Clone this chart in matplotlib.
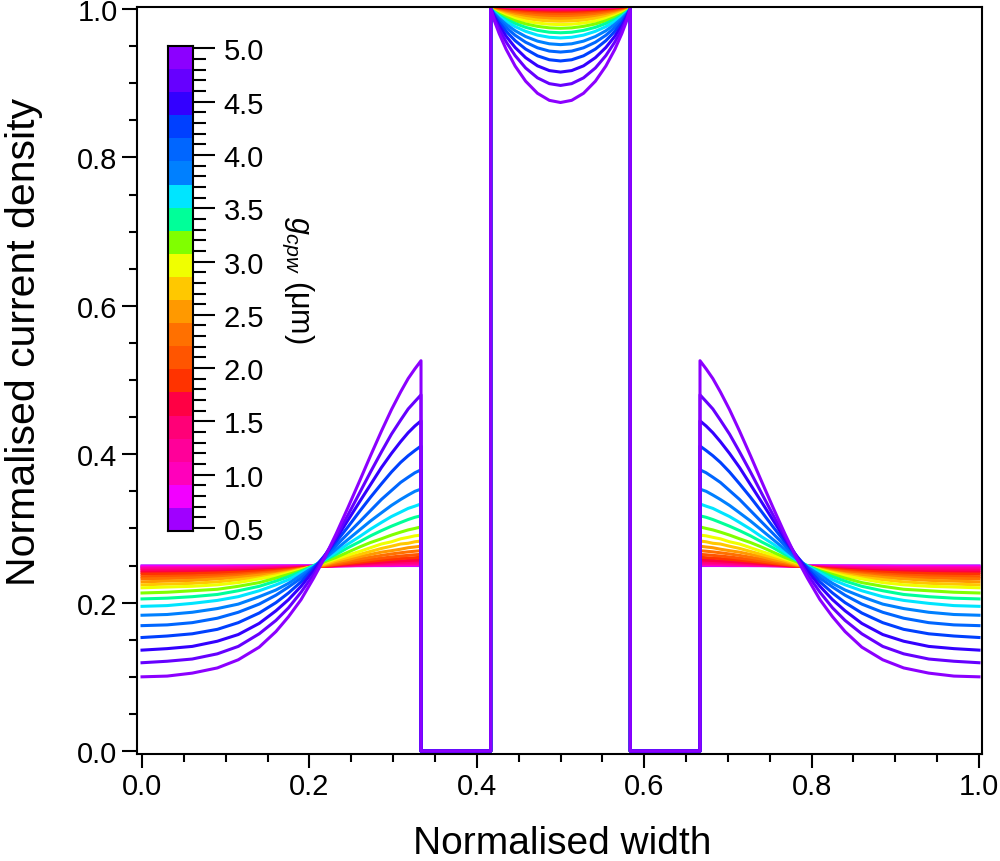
import numpy as np
import matplotlib
matplotlib.use("Agg")
import matplotlib.pyplot as plt
from matplotlib.colors import ListedColormap
from matplotlib.ticker import MultipleLocator

plt.rcParams["font.family"] = ["Liberation Sans", "DejaVu Sans"]
plt.rcParams["mathtext.fontset"] = "custom"
plt.rcParams["mathtext.it"] = "Liberation Sans:italic"
plt.rcParams["mathtext.rm"] = "Liberation Sans"

# one curve per g_cpw step, from 0.5 um (flattest) up to 5.0 um (strongest edge peak)
colors = ["#A000FF", "#F200FF", "#FF00BB", "#FF0099", "#FF0077", "#FF0044",
          "#FF3300", "#FF5500", "#FF7000", "#FF9900", "#FFC800", "#F0FF00",
          "#80FF00", "#00FF99", "#00E5FF", "#0080FF", "#0066FF", "#0040FF",
          "#3300FF", "#6600FF", "#8C00FF"]
cbar_ticks = [0.5, 1.0, 1.5, 2.0, 2.5, 3.0, 3.5, 4.0, 4.5, 5.0]

# left ground plane, x = 0 .. 1/3 (right ground plane is its mirror image)
x_ground = [0, 0.03, 0.06, 0.09, 0.115, 0.14, 0.16, 0.175, 0.19, 0.205, 0.218, 0.232,
            0.246, 0.26, 0.273, 0.286, 0.298, 0.309, 0.318, 0.326, 1 / 3]
ground = [
    [0.2495, 0.2495, 0.2495, 0.2495, 0.2496, 0.2496, 0.2496, 0.2496, 0.2497, 0.2497, 0.2497,
     0.2498, 0.2498, 0.2499, 0.2499, 0.2499, 0.2499, 0.2500, 0.2500, 0.2500, 0.2500],
    [0.2485, 0.2485, 0.2486, 0.2486, 0.2487, 0.2488, 0.2490, 0.2491, 0.2492, 0.2493, 0.2495,
     0.2496, 0.2498, 0.2499, 0.2500, 0.2502, 0.2503, 0.2504, 0.2504, 0.2505, 0.2505],
    [0.2470, 0.2471, 0.2472, 0.2473, 0.2475, 0.2478, 0.2481, 0.2483, 0.2486, 0.2489, 0.2492,
     0.2495, 0.2498, 0.2502, 0.2505, 0.2507, 0.2510, 0.2512, 0.2513, 0.2514, 0.2515],
    [0.2455, 0.2456, 0.2457, 0.2460, 0.2463, 0.2468, 0.2473, 0.2477, 0.2482, 0.2487, 0.2491,
     0.2497, 0.2502, 0.2508, 0.2513, 0.2517, 0.2521, 0.2525, 0.2527, 0.2529, 0.2530],
    [0.2435, 0.2436, 0.2439, 0.2443, 0.2448, 0.2455, 0.2462, 0.2469, 0.2476, 0.2484, 0.2491,
     0.2499, 0.2508, 0.2516, 0.2523, 0.2531, 0.2537, 0.2542, 0.2545, 0.2548, 0.2550],
    [0.2410, 0.2412, 0.2415, 0.2421, 0.2429, 0.2439, 0.2449, 0.2458, 0.2468, 0.2480, 0.2490,
     0.2502, 0.2514, 0.2526, 0.2537, 0.2547, 0.2556, 0.2563, 0.2568, 0.2572, 0.2575],
    [0.2385, 0.2388, 0.2392, 0.2400, 0.2410, 0.2424, 0.2438, 0.2451, 0.2465, 0.2480, 0.2494,
     0.2511, 0.2527, 0.2543, 0.2558, 0.2572, 0.2584, 0.2594, 0.2601, 0.2606, 0.2610],
    [0.2350, 0.2354, 0.2360, 0.2370, 0.2384, 0.2402, 0.2421, 0.2438, 0.2456, 0.2477, 0.2496,
     0.2517, 0.2539, 0.2561, 0.2581, 0.2599, 0.2615, 0.2628, 0.2637, 0.2645, 0.2650],
    [0.2320, 0.2325, 0.2333, 0.2346, 0.2363, 0.2386, 0.2410, 0.2431, 0.2455, 0.2481, 0.2505,
     0.2532, 0.2560, 0.2588, 0.2612, 0.2636, 0.2656, 0.2672, 0.2684, 0.2693, 0.2700],
    [0.228, 0.229, 0.230, 0.232, 0.234, 0.237, 0.239, 0.242, 0.245, 0.248, 0.251,
     0.255, 0.258, 0.262, 0.265, 0.268, 0.270, 0.272, 0.274, 0.275, 0.276],
    [0.224, 0.225, 0.226, 0.228, 0.231, 0.234, 0.238, 0.241, 0.245, 0.249, 0.252,
     0.257, 0.261, 0.265, 0.269, 0.273, 0.276, 0.279, 0.280, 0.282, 0.283],
    [0.220, 0.221, 0.222, 0.224, 0.227, 0.232, 0.236, 0.240, 0.244, 0.249, 0.254,
     0.259, 0.264, 0.269, 0.274, 0.279, 0.282, 0.286, 0.288, 0.290, 0.291],
    [0.213, 0.214, 0.216, 0.218, 0.222, 0.227, 0.233, 0.238, 0.243, 0.249, 0.255,
     0.261, 0.268, 0.275, 0.281, 0.286, 0.291, 0.295, 0.298, 0.300, 0.302],
    [0.205, 0.206, 0.208, 0.211, 0.216, 0.222, 0.229, 0.235, 0.242, 0.250, 0.257,
     0.265, 0.274, 0.282, 0.290, 0.297, 0.303, 0.308, 0.312, 0.315, 0.317],
    [0.195, 0.196, 0.199, 0.203, 0.208, 0.216, 0.224, 0.231, 0.240, 0.249, 0.258,
     0.268, 0.279, 0.289, 0.299, 0.308, 0.316, 0.322, 0.327, 0.330, 0.333],
    [0.183, 0.184, 0.187, 0.192, 0.198, 0.208, 0.217, 0.226, 0.237, 0.248, 0.259,
     0.272, 0.285, 0.298, 0.310, 0.321, 0.331, 0.339, 0.345, 0.350, 0.353],
    [0.169, 0.170, 0.173, 0.179, 0.187, 0.198, 0.210, 0.221, 0.233, 0.247, 0.261,
     0.277, 0.293, 0.309, 0.324, 0.339, 0.351, 0.362, 0.369, 0.375, 0.379],
    [0.153, 0.155, 0.158, 0.164, 0.173, 0.186, 0.200, 0.213, 0.228, 0.246, 0.263,
     0.282, 0.302, 0.323, 0.342, 0.360, 0.376, 0.389, 0.398, 0.405, 0.411],
    [0.136, 0.138, 0.141, 0.148, 0.157, 0.172, 0.189, 0.204, 0.222, 0.243, 0.263,
     0.286, 0.311, 0.336, 0.359, 0.382, 0.401, 0.417, 0.429, 0.438, 0.445],
    [0.119, 0.121, 0.124, 0.131, 0.141, 0.158, 0.176, 0.193, 0.214, 0.238, 0.262,
     0.289, 0.318, 0.348, 0.376, 0.403, 0.427, 0.446, 0.461, 0.471, 0.480],
    [0.100, 0.101, 0.105, 0.112, 0.123, 0.140, 0.161, 0.181, 0.204, 0.233, 0.260,
     0.293, 0.328, 0.364, 0.398, 0.431, 0.460, 0.484, 0.502, 0.515, 0.526],
]

# left half of the centre strip, x = 5/12 .. 1/2 (right half is its mirror image)
x_centre = [0.41667, 0.42083, 0.42667, 0.435, 0.44583, 0.45833, 0.4725, 0.48667, 0.5]
centre = [
    [1.0, 1.0, 0.9999, 0.9999, 0.9999, 0.9998, 0.9998, 0.9998, 0.9998],
    [1.0, 0.9999, 0.9998, 0.9997, 0.9996, 0.9995, 0.9995, 0.9994, 0.9994],
    [1.0, 0.9999, 0.9997, 0.9995, 0.9993, 0.9991, 0.9989, 0.9988, 0.9988],
    [1.0, 0.9998, 0.9995, 0.9991, 0.9988, 0.9985, 0.9982, 0.9980, 0.9980],
    [1.0, 0.9997, 0.9993, 0.9988, 0.9983, 0.9978, 0.9975, 0.9973, 0.9972],
    [1.0, 0.9995, 0.9990, 0.9983, 0.9976, 0.9969, 0.9964, 0.9961, 0.9960],
    [1.0, 0.9993, 0.9986, 0.9976, 0.9966, 0.9958, 0.9950, 0.9946, 0.9945],
    [1.0, 0.9991, 0.9980, 0.9968, 0.9954, 0.9942, 0.9932, 0.9927, 0.9925],
    [1.0, 0.9988, 0.9974, 0.9957, 0.9939, 0.9923, 0.9910, 0.9902, 0.9900],
    [1.0, 0.9984, 0.9966, 0.9944, 0.9921, 0.9900, 0.9883, 0.9873, 0.9870],
    [1.0, 0.9980, 0.9957, 0.9929, 0.9899, 0.9873, 0.9851, 0.9839, 0.9835],
    [1.0, 0.9974, 0.9945, 0.9910, 0.9872, 0.9838, 0.9811, 0.9795, 0.9790],
    [1.0, 0.9968, 0.9932, 0.9888, 0.9841, 0.9799, 0.9766, 0.9746, 0.9740],
    [1.0, 0.9961, 0.9916, 0.9862, 0.9805, 0.9753, 0.9712, 0.9687, 0.9680],
    [1.0, 0.9952, 0.9898, 0.9832, 0.9762, 0.9699, 0.9648, 0.9619, 0.9610],
    [1.0, 0.9941, 0.9874, 0.9794, 0.9707, 0.9629, 0.9567, 0.9531, 0.9520],
    [1.0, 0.9929, 0.9848, 0.9751, 0.9646, 0.9552, 0.9477, 0.9433, 0.9420],
    [1.0, 0.9914, 0.9817, 0.9699, 0.9573, 0.9460, 0.9369, 0.9316, 0.9300],
    [1.0, 0.9895, 0.9777, 0.9634, 0.9481, 0.9344, 0.9234, 0.9170, 0.9150],
    [1.0, 0.9873, 0.9730, 0.9557, 0.9372, 0.9205, 0.9072, 0.8994, 0.8970],
    [1.0, 0.9845, 0.9670, 0.9458, 0.9231, 0.9027, 0.8864, 0.8769, 0.8740],
]

# gaps between the conductors carry no current
gap_left = [1 / 3, 5 / 12]
gap_right = [7 / 12, 2 / 3]


def full_profile(g_row, c_row):
    xg = np.array(x_ground)
    xc = np.array(x_centre)
    g = np.array(g_row)
    c = np.array(c_row)
    x = np.concatenate([xg, gap_left, xc, (1 - xc[::-1])[1:], gap_right, 1 - xg[::-1]])
    y = np.concatenate([g, [0, 0], c, c[::-1][1:], [0, 0], g[::-1]])
    return x, y


fig = plt.figure(figsize=(10, 8.62), dpi=100)
ax = fig.add_axes([137 / 1000, 1 - 755 / 862, 845 / 1000, 747 / 862])

for g_row, c_row, col in zip(ground, centre, colors):
    x, y = full_profile(g_row, c_row)
    ax.plot(x, y, color=col, lw=2.2)

ax.set_xlim(-0.006, 1.0036)
ax.set_ylim(-0.004, 1.0027)
for sp in ax.spines.values():
    sp.set_linewidth(1.5)
ax.xaxis.set_major_locator(MultipleLocator(0.2))
ax.xaxis.set_minor_locator(MultipleLocator(0.05))
ax.yaxis.set_major_locator(MultipleLocator(0.2))
ax.yaxis.set_minor_locator(MultipleLocator(0.05))
ax.tick_params(which="both", direction="out", width=1.5, labelsize=21)
ax.tick_params(axis="x", which="major", length=10, pad=3)
ax.tick_params(axis="x", which="minor", length=6)
ax.tick_params(axis="y", which="major", length=11, pad=3)
ax.tick_params(axis="y", which="minor", length=6)
ax.xaxis.set_major_formatter(lambda v, pos: f"{v:.1f}")
ax.yaxis.set_major_formatter(lambda v, pos: f"{v:.1f}")

fig.text(0.562, 1 - 844 / 862, "Normalised width", ha="center", va="center", fontsize=28)
fig.text(0.024, 1 - 342 / 862, "Normalised current density", ha="center", va="center",
         rotation=90, fontsize=29.5)

# colour scale inset
cax = fig.add_axes([168 / 1000, 1 - 532 / 862, 25 / 1000, 485 / 862])
bounds = np.linspace(0.472, 5.022, len(colors) + 1)
cax.pcolormesh([0, 1], bounds, np.arange(len(colors)).reshape(-1, 1),
               cmap=ListedColormap(colors), shading="flat")
cax.set_ylim(bounds[0], bounds[-1])
cax.set_xlim(0, 1)
cax.set_xticks([])
cax.yaxis.tick_right()
cax.set_yticks(cbar_ticks)
cax.yaxis.set_minor_locator(MultipleLocator(0.1))
cax.yaxis.set_major_formatter(lambda v, pos: f"{v:.1f}")
cax.tick_params(which="both", direction="out", width=1.5, labelsize=21)
cax.tick_params(which="major", length=16, pad=6)
cax.tick_params(which="minor", length=9)
for sp in cax.spines.values():
    sp.set_linewidth(1.5)
fig.text(0.298, 1 - 280 / 862, r"$g_{cpw}$ (μm)", rotation=270, ha="center", va="center",
         fontsize=22)

fig.savefig("out.png", dpi=100)
